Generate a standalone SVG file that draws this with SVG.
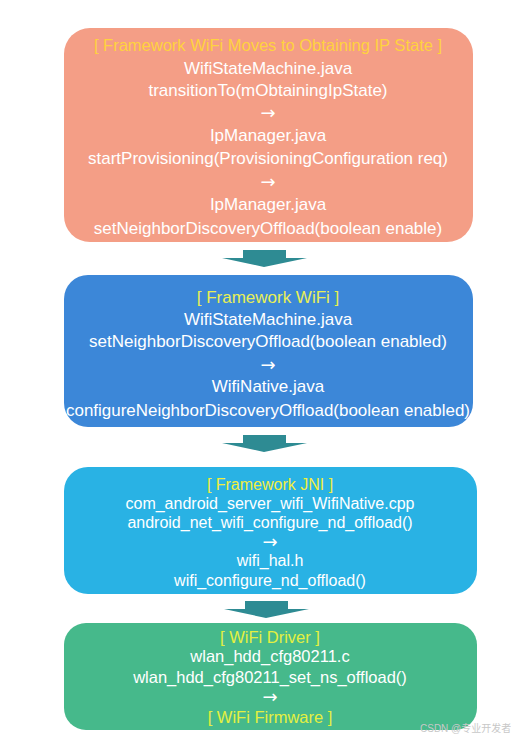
<svg xmlns="http://www.w3.org/2000/svg" width="511" height="740" viewBox="0 0 511 740">
<style>
text{font-family:"Liberation Sans",Arial,sans-serif;font-size:17px;text-anchor:middle;fill:#ffffff}
.s3{font-size:16px}
.s4{font-size:16.5px}
.ar{font-family:"DejaVu Sans",sans-serif;font-size:18px}
.t1{fill:#ffd23f}
.t2{fill:#e8ef55}
.t3{fill:#f2ee3c}
.t4{fill:#e4f040}
.arr{fill:#2e8b93}
.wm{font-family:"Liberation Sans","Noto Sans CJK SC",sans-serif;font-size:10px;fill:#c8c8c8;text-anchor:start}
</style>
<rect width="511" height="740" fill="#ffffff"/>
<g id="connectors">
<path class="arr" d="M243,250 H286 V258 H307 L264,267 L222,258 H243 Z"/>
<path class="arr" d="M243,435 H286 V443 H307 L264,452 L222,443 H243 Z"/>
<path class="arr" d="M245,601 H288 V609 H309 L266,618 L224,609 H245 Z"/>
</g>
<g id="node1">
<rect x="64" y="28" width="409" height="214" rx="26" fill="#f49e86"/>
<text class="t1" x="268" y="51" style="font-size:16.5px">[ Framework WiFi Moves to Obtaining IP State ]</text>
<text x="268" y="74">WifiStateMachine.java</text>
<text x="268" y="96">transitionTo(mObtainingIpState)</text>
<text class="ar" x="268" y="119">→</text>
<text x="268" y="141">IpManager.java</text>
<text x="268" y="164">startProvisioning(ProvisioningConfiguration req)</text>
<text class="ar" x="268" y="188">→</text>
<text x="268" y="210">IpManager.java</text>
<text x="268" y="234">setNeighborDiscoveryOffload(boolean enable)</text>
</g>
<g id="node2">
<rect x="64" y="275" width="409" height="152" rx="24" fill="#3c87d8"/>
<text class="t2" x="268" y="303">[ Framework WiFi ]</text>
<text x="268" y="325">WifiStateMachine.java</text>
<text x="268" y="347">setNeighborDiscoveryOffload(boolean enabled)</text>
<text class="ar" x="268" y="371">→</text>
<text x="268" y="392">WifiNative.java</text>
<text x="268" y="416" textLength="404" lengthAdjust="spacingAndGlyphs">configureNeighborDiscoveryOffload(boolean enabled)</text>
</g>
<g id="node3">
<rect x="64" y="467" width="413" height="127" rx="24" fill="#29b2e4"/>
<text class="t3 s3" x="270" y="490">[ Framework JNI ]</text>
<text class="s3" x="270" y="509">com_android_server_wifi_WifiNative.cpp</text>
<text class="s3" x="270" y="528">android_net_wifi_configure_nd_offload()</text>
<text class="ar" x="270" y="548">→</text>
<text class="s3" x="270" y="566">wifi_hal.h</text>
<text class="s3" x="270" y="586">wifi_configure_nd_offload()</text>
</g>
<g id="node4">
<rect x="64" y="623" width="413" height="107" rx="22" fill="#46b98b"/>
<text class="t4 s4" x="270" y="643">[ WiFi Driver ]</text>
<text class="s4" x="270" y="662">wlan_hdd_cfg80211.c</text>
<text class="s4" x="270" y="683">wlan_hdd_cfg80211_set_ns_offload()</text>
<text class="ar" x="270" y="703">→</text>
<text class="t4 s4" x="270" y="723">[ WiFi Firmware ]</text>
</g>
<text class="wm" x="420" y="732">CSDN @专业开发者</text>
</svg>
